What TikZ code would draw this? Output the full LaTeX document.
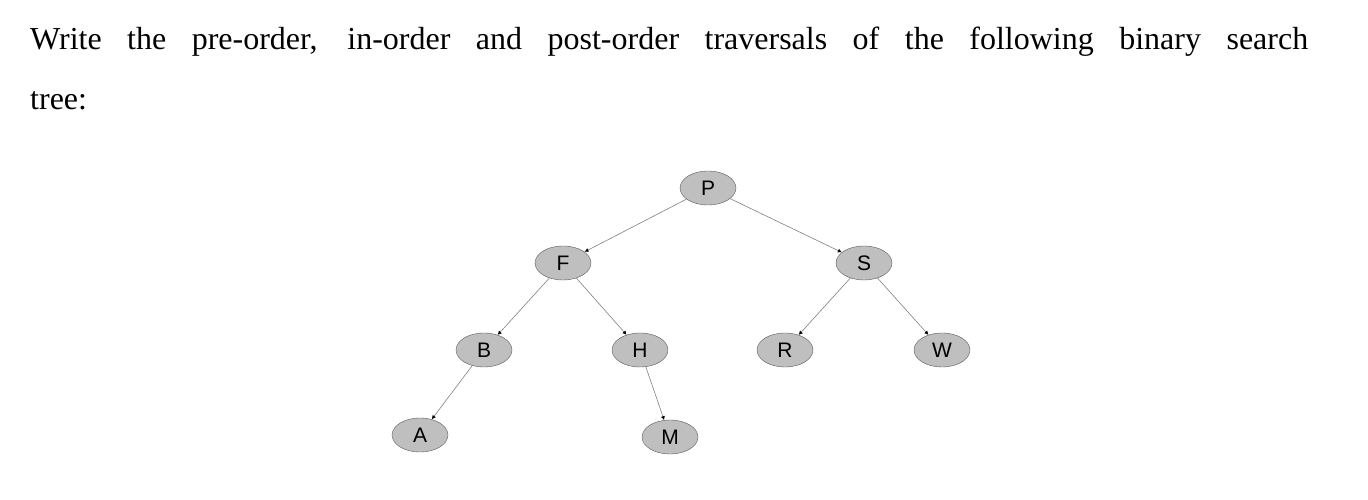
\documentclass[tikz,border=0pt]{standalone}
\usepackage{fontspec}
\setmainfont{Liberation Serif}
\newfontfamily\nodefont{Liberation Sans}
\usetikzlibrary{shapes.geometric,arrows.meta}
\begin{document}
\begin{tikzpicture}[x=1pt,y=1pt,
  tn/.style={ellipse,draw=gray!70!black,fill=gray!50,minimum width=56pt,minimum height=34pt,inner sep=0pt,font=\nodefont\fontsize{21}{21}\selectfont},
  ed/.style={draw=gray,line width=0.6pt,-{Latex[length=4pt,width=4pt,black]}}]
\useasboundingbox (0,0) rectangle (1368,500);
\node[anchor=base west,inner sep=0pt,font=\fontsize{32}{32}\selectfont] (l1) at (30,450) {\makebox[1278pt][s]{Write the pre-order, in-order and post-order traversals of the following binary search}};
\node[anchor=base west,inner sep=0pt,font=\fontsize{32}{32}\selectfont] (l2) at (30,390) {tree:};
\node[tn] (P) at (708,312) {P};
\node[tn] (F) at (563,237) {F};
\node[tn] (S) at (864,237) {S};
\node[tn] (B) at (484,150) {B};
\node[tn] (H) at (640,150) {H};
\node[tn] (R) at (785,150) {R};
\node[tn] (W) at (942,150) {W};
\node[tn] (A) at (420,65) {A};
\node[tn] (M) at (670,63) {M};
\draw[ed] (P) -- (F);
\draw[ed] (P) -- (S);
\draw[ed] (F) -- (B);
\draw[ed] (F) -- (H);
\draw[ed] (S) -- (R);
\draw[ed] (S) -- (W);
\draw[ed] (B) -- (A);
\draw[ed] (H) -- (M);
\end{tikzpicture}
\end{document}
